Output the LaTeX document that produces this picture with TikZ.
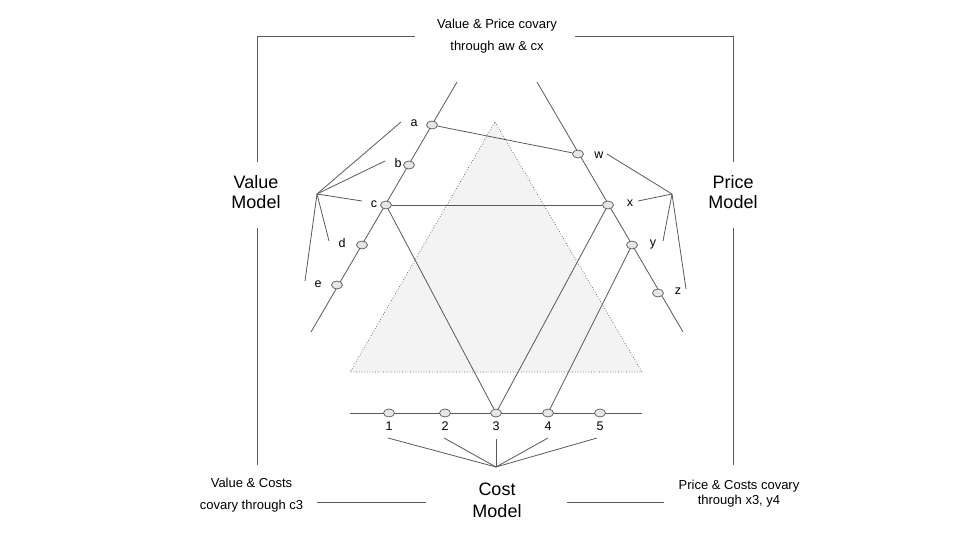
\documentclass[tikz,border=0pt]{standalone}
\usepackage{fontspec}
\setmainfont{Liberation Sans}
\usetikzlibrary{shapes.geometric,positioning}
\definecolor{linegray}{HTML}{595959}
\definecolor{dotfill}{HTML}{E6E6E6}
\definecolor{shade}{HTML}{F3F3F3}
\tikzset{
  pt/.style={ellipse, draw=linegray, fill=dotfill, line width=0.7pt,
    minimum width=11pt, minimum height=8pt, inner sep=0pt},
  lbl/.style={font=\fontsize{12.5}{14}\selectfont, inner sep=0pt,
    text height=7.5pt, text depth=0pt},
  model/.style={font=\fontsize{18}{20}\selectfont, align=center},
  note/.style={font=\fontsize{13}{22}\selectfont, align=center},
}

\begin{document}
\begin{tikzpicture}[x=1pt, y=-1pt, line width=0.8pt, draw=linegray]
    \useasboundingbox (0,0) rectangle (960,540);

    % shaded triangle
    \filldraw[fill=shade, dotted, line width=0.7pt]
      (495,122) -- (642,372) -- (350,372) -- cycle;

    % the three axes
    \coordinate (vtop) at (457,82);
    \coordinate (vbot) at (311,332);
    \coordinate (ptop) at (537,82);
    \coordinate (pbot) at (683,332);
    \coordinate (cleft) at (350,413);
    \coordinate (cright) at (642,413);

    \draw (vtop) -- (vbot);
    \draw (ptop) -- (pbot);
    \draw (cleft) -- (cright);

    % value points
    \node[pt] (a) at (432,125) {};
    \node[pt] (b) at (409,165) {};
    \node[pt] (c) at (386,205) {};
    \node[pt] (d) at (362,245) {};
    \node[pt] (e) at (337,285) {};

    % price points
    \node[pt] (w) at (578,154) {};
    \node[pt] (x) at (608,205) {};
    \node[pt] (y) at (632,245) {};
    \node[pt] (z) at (658,293) {};

    % cost points
    \foreach \n/\px in {1/389,2/445,3/496,4/548,5/600} {
      \node[pt] (k\n) at (\px,413) {};
      \node[lbl] (lk\n) at (\px,427) {\n};
    }

    \node[lbl] (la) at (414,123) {a};
    \node[lbl] (lb) at (398,163.5) {b};
    \node[lbl] (lc) at (374,203.5) {c};
    \node[lbl] (ld) at (342,243.5) {d};
    \node[lbl] (le) at (318,283.5) {e};

    \node[lbl] (lw) at (599,155) {w};
    \node[lbl] (lx) at (630,203) {x};
    \node[lbl] (ly) at (653,243) {y};
    \node[lbl] (lz) at (678,291) {z};

    % covariation links
    \draw (a) -- (w);
    \draw (c) -- (x);
    \draw (c) -- (k3);
    \draw (x) -- (k3);
    \draw (y) -- (k4);

    % label fans
    \coordinate (vhub) at (317,194);
    \coordinate (phub) at (672,194);
    \coordinate (chub) at (496,467);

    \draw (vhub) -- (401,122);
    \draw (vhub) -- (385,161);
    \draw (vhub) -- (362,201);
    \draw (vhub) -- (329,241);
    \draw (vhub) -- (305,281);

    \draw (phub) -- (607,154);
    \draw (phub) -- (638,201);
    \draw (phub) -- (663,241);
    \draw (phub) -- (686,289);

    \draw (chub) -- (388,438);
    \draw (chub) -- (444,438);
    \draw (chub) -- (496,439);
    \draw (chub) -- (548,438);
    \draw (chub) -- (597,438);

    % models
    \node[model] (vmodel) at (256,192.5) {Value\\Model};
    \node[model] (pmodel) at (733,192.5) {Price\\Model};
    \node[model, font=\fontsize{18}{22}\selectfont] (cmodel) at (497,500.5) {Cost\\Model};

    % notes
    \node[note] (vpnote) at (497,36.6) {Value \& Price covary\\through aw \& cx};
    \node[note] (vcnote) at (251.5,495.6) {Value \& Costs\\covary through c3};
    \node[note, font=\fontsize{13}{15.5}\selectfont] (pcnote) at (739,493.4) {Price \& Costs covary\\through x3, y4};

    % brackets
    \coordinate (vpleft) at (415,36);
    \coordinate (vpright) at (575,36);
    \draw (vpleft) -| (257,162);
    \draw (257,228) -- (257,465);
    \draw (vpright) -| (733,162);
    \draw (733,228) -- (733,465);
    \draw (317,502) -- (426,502);
    \draw (567,502) -- (664,502);
\end{tikzpicture}
\end{document}
